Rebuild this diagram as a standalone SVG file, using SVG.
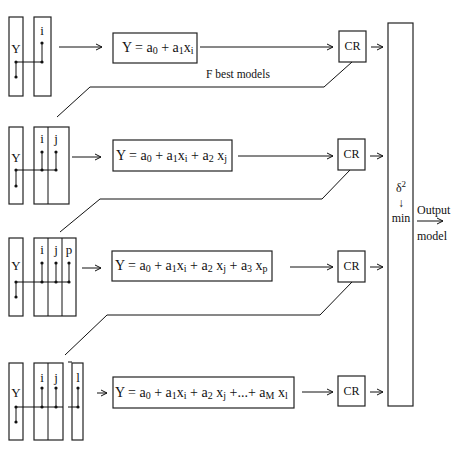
<svg xmlns="http://www.w3.org/2000/svg" width="474" height="453" viewBox="0 0 474 453">
<style>
  .bx{fill:#fff;stroke:#222;stroke-width:1.2}
  .ln{fill:none;stroke:#111;stroke-width:1}
  .ar{fill:none;stroke:#111;stroke-width:1;marker-end:url(#ah)}
  .dt{fill:#111}
  text{font-family:"Liberation Serif","Times New Roman",serif;fill:#111}
  .f{font-size:14px}
  .s{font-size:10px}
  .c{font-size:12px;text-anchor:middle}
  .lb{font-size:13px;text-anchor:middle}
  .t{font-size:12px}
</style>
<defs>
  <marker id="ah" markerWidth="8" markerHeight="8" refX="7" refY="4" orient="auto" markerUnits="userSpaceOnUse">
    <path d="M1,1 L7,4 L1,7" fill="none" stroke="#111" stroke-width="1"/>
  </marker>
</defs>
<rect width="474" height="453" fill="#fff"/>

<!-- left column nodes -->
<g id="cols1">
  <rect class="bx" x="9" y="17" width="14" height="79"/>
  <rect class="bx" x="34" y="17" width="17" height="79"/>
  <text class="lb" x="16" y="53">Y</text>
  <text class="lb" x="42" y="35">i</text>
  <path class="ln" d="M42,43 V62 H16 V77"/>
  <circle class="dt" cx="42" cy="43" r="1.6"/><circle class="dt" cx="42" cy="62" r="1.6"/>
  <circle class="dt" cx="16" cy="62" r="1.6"/><circle class="dt" cx="16" cy="77" r="1.6"/>
</g>
<g id="cols2">
  <rect class="bx" x="9" y="127" width="14" height="77"/>
  <rect class="bx" x="34" y="127" width="35" height="77"/>
  <line class="ln" x1="48" y1="127" x2="48" y2="204"/>
  <text class="lb" x="16" y="162">Y</text>
  <text class="lb" x="42" y="143">i</text>
  <text class="lb" x="56" y="143">j</text>
  <path class="ln" d="M42,152 V170 M56,152 V170 M56,170 H16 V186"/>
  <circle class="dt" cx="42" cy="152" r="1.6"/><circle class="dt" cx="56" cy="152" r="1.6"/>
  <circle class="dt" cx="42" cy="170" r="1.6"/><circle class="dt" cx="56" cy="170" r="1.6"/>
  <circle class="dt" cx="16" cy="170" r="1.6"/><circle class="dt" cx="16" cy="186" r="1.6"/>
</g>
<g id="cols3">
  <rect class="bx" x="9" y="238" width="14" height="78"/>
  <rect class="bx" x="34" y="238" width="42" height="78"/>
  <line class="ln" x1="48" y1="238" x2="48" y2="316"/>
  <line class="ln" x1="62" y1="238" x2="62" y2="316"/>
  <text class="lb" x="16" y="270">Y</text>
  <text class="lb" x="42" y="254">i</text>
  <text class="lb" x="56" y="254">j</text>
  <text class="lb" x="69" y="254">p</text>
  <path class="ln" d="M42,263 V282 M56,263 V282 M69,263 V282 M69,282 H16 V297"/>
  <circle class="dt" cx="42" cy="263" r="1.6"/><circle class="dt" cx="56" cy="263" r="1.6"/><circle class="dt" cx="69" cy="263" r="1.6"/>
  <circle class="dt" cx="42" cy="282" r="1.6"/><circle class="dt" cx="56" cy="282" r="1.6"/><circle class="dt" cx="69" cy="282" r="1.6"/>
  <circle class="dt" cx="16" cy="282" r="1.6"/><circle class="dt" cx="16" cy="297" r="1.6"/>
</g>
<g id="cols4">
  <rect class="bx" x="9" y="363" width="14" height="77"/>
  <rect class="bx" x="34" y="363" width="29" height="77"/>
  <line class="ln" x1="48" y1="363" x2="48" y2="440"/>
  <rect class="bx" x="72" y="363" width="11" height="77"/>
  <line class="ln" x1="68" y1="362" x2="72" y2="362"/>
  <text class="lb" x="16" y="397">Y</text>
  <text class="lb" x="42" y="382">i</text>
  <text class="lb" x="56" y="382">j</text>
  <text class="lb" x="78" y="382">l</text>
  <path class="ln" d="M42,388 V407 M56,388 V407 M78,388 V407 M16,422 V407 H63 M68,407 H78"/>
  <circle class="dt" cx="42" cy="388" r="1.6"/><circle class="dt" cx="56" cy="388" r="1.6"/><circle class="dt" cx="78" cy="388" r="1.6"/>
  <circle class="dt" cx="42" cy="407" r="1.6"/><circle class="dt" cx="56" cy="407" r="1.6"/><circle class="dt" cx="78" cy="407" r="1.6"/>
  <circle class="dt" cx="16" cy="407" r="1.6"/><circle class="dt" cx="16" cy="422" r="1.6"/>
</g>

<!-- formula nodes -->
<g id="model1">
  <rect class="bx" x="113" y="33" width="84" height="30"/>
  <text class="f" x="122" y="52">Y = a<tspan class="s" dy="2">0</tspan><tspan dy="-2"> + a</tspan><tspan class="s" dy="2">1</tspan><tspan dy="-2">x</tspan><tspan class="s" dy="2">i</tspan></text>
</g>
<g id="model2">
  <rect class="bx" x="113" y="140" width="119" height="31"/>
  <text class="f" x="116" y="160">Y = a<tspan class="s" dy="2">0</tspan><tspan dy="-2"> + a</tspan><tspan class="s" dy="2">1</tspan><tspan dy="-2">x</tspan><tspan class="s" dy="2">i</tspan><tspan dy="-2"> + a</tspan><tspan class="s" dy="2">2</tspan><tspan dy="-2"> x</tspan><tspan class="s" dy="2">j</tspan></text>
</g>
<g id="model3">
  <rect class="bx" x="112" y="251" width="160" height="30"/>
  <text class="f" x="115" y="270">Y = a<tspan class="s" dy="2">0</tspan><tspan dy="-2"> + a</tspan><tspan class="s" dy="2">1</tspan><tspan dy="-2">x</tspan><tspan class="s" dy="2">i</tspan><tspan dy="-2"> + a</tspan><tspan class="s" dy="2">2</tspan><tspan dy="-2"> x</tspan><tspan class="s" dy="2">j</tspan><tspan dy="-2"> + a</tspan><tspan class="s" dy="2">3</tspan><tspan dy="-2"> x</tspan><tspan class="s" dy="2">p</tspan></text>
</g>
<g id="model4">
  <rect class="bx" x="113" y="377" width="181" height="31"/>
  <text class="f" x="115" y="397">Y = a<tspan class="s" dy="2">0</tspan><tspan dy="-2"> + a</tspan><tspan class="s" dy="2">1</tspan><tspan dy="-2">x</tspan><tspan class="s" dy="2">i</tspan><tspan dy="-2"> + a</tspan><tspan class="s" dy="2">2</tspan><tspan dy="-2"> x</tspan><tspan class="s" dy="2">j</tspan><tspan dy="-2"> +...+ a</tspan><tspan class="s" dy="2">M</tspan><tspan dy="-2"> x</tspan><tspan class="s" dy="2">l</tspan></text>
</g>

<!-- CR nodes -->
<g id="cr1"><rect class="bx" x="339" y="31" width="27" height="31"/><text class="c" x="352.5" y="50">CR</text></g>
<g id="cr2"><rect class="bx" x="338" y="139" width="27" height="31"/><text class="c" x="351.5" y="158">CR</text></g>
<g id="cr3"><rect class="bx" x="338" y="251" width="27" height="31"/><text class="c" x="351.5" y="270">CR</text></g>
<g id="cr4"><rect class="bx" x="338" y="376" width="27" height="30"/><text class="c" x="351.5" y="395">CR</text></g>

<!-- selector node -->
<g id="selector">
  <rect class="bx" x="388" y="23" width="25" height="383"/>
  <text class="c" x="401" y="192">δ<tspan font-size="9" dy="-5">2</tspan></text>
  <text class="c" x="401" y="207">↓</text>
  <text class="c" x="401" y="222">min</text>
</g>

<!-- connectors -->
<g id="connectors">
  <line class="ar" x1="59" y1="47" x2="102" y2="47"/>
  <line class="ar" x1="72" y1="157" x2="101" y2="157"/>
  <line class="ar" x1="82" y1="268" x2="101" y2="268"/>
  <line class="ar" x1="97" y1="393" x2="107" y2="393"/>

  <line class="ar" x1="200" y1="47" x2="333" y2="47"/>
  <line class="ar" x1="238" y1="156" x2="333" y2="156"/>
  <line class="ar" x1="290" y1="267" x2="333" y2="267"/>
  <line class="ar" x1="302" y1="392" x2="333" y2="392"/>

  <line class="ar" x1="371" y1="47" x2="383" y2="47"/>
  <line class="ar" x1="370" y1="156" x2="383" y2="156"/>
  <line class="ar" x1="370" y1="267" x2="383" y2="267"/>
  <line class="ar" x1="370" y1="392" x2="383" y2="392"/>

  <polyline class="ln" points="352,62 324,87 90,87 57,117"/>
  <polyline class="ln" points="350,170 322,199 100,199 60,232"/>
  <polyline class="ln" points="352,282 320,315 107,315 65,355"/>

  <line class="ar" x1="417" y1="221" x2="443" y2="221"/>
</g>

<text class="t" x="206" y="78" font-size="11.5" style="font-size:11.5px">F  best models</text>
<text class="t" x="417" y="214">Output</text>
<text class="t" x="417" y="240">model</text>
</svg>
